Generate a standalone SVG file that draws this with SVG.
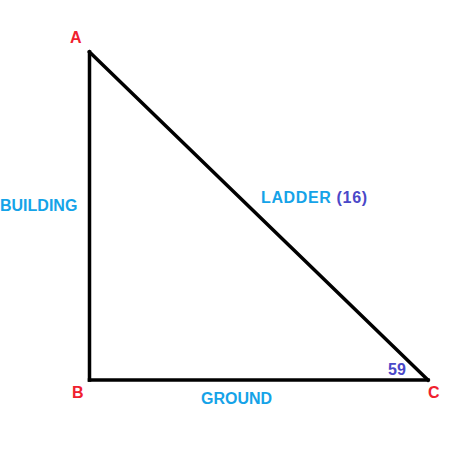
<svg xmlns="http://www.w3.org/2000/svg" width="450" height="457" viewBox="0 0 450 457">
<style>
text{font-family:"Liberation Sans",Arial,sans-serif;font-weight:bold;font-size:16px}
.pt{fill:#f0202e}
.lb{fill:#15a3e8}
.nm{fill:#4a48c8}
.edge{stroke:#000;stroke-width:3.5;fill:none;stroke-linecap:square}
</style>
<rect width="450" height="457" fill="#fff"/>
<g id="connectors">
<line class="edge" x1="89.5" y1="52" x2="89.5" y2="380"/>
<line class="edge" x1="89.5" y1="380" x2="428" y2="380"/>
<line class="edge" x1="89.5" y1="52" x2="428" y2="380"/>
</g>
<g id="A"><text class="pt" x="70" y="43">A</text></g>
<g id="B"><text class="pt" x="72" y="398">B</text></g>
<g id="C"><text class="pt" x="428" y="398">C</text></g>
<g id="building"><text class="lb" x="0" y="211">BUILDING</text></g>
<g id="ladder"><text x="261" y="203" textLength="106" lengthAdjust="spacing"><tspan class="lb">LADDER </tspan><tspan class="nm">(16)</tspan></text></g>
<g id="ground"><text class="lb" x="201" y="404">GROUND</text></g>
<g id="angle"><text class="nm" x="388" y="375">59</text></g>
</svg>
